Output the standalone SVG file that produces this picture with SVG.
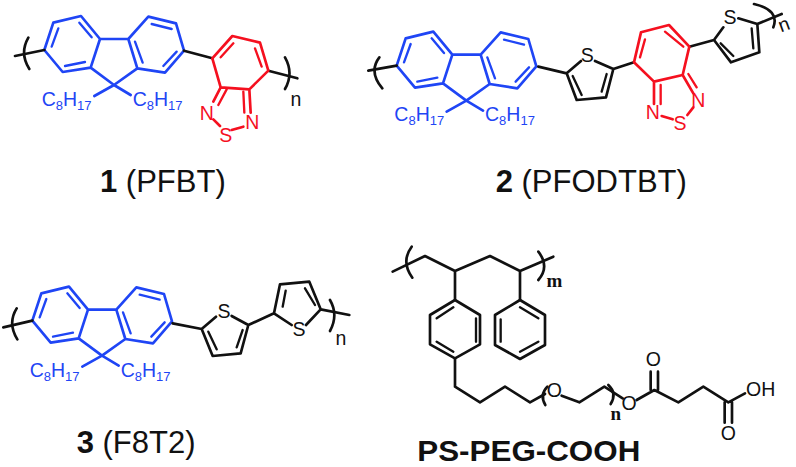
<svg xmlns="http://www.w3.org/2000/svg" xmlns:xlink="http://www.w3.org/1999/xlink" width="796" height="467" viewBox="0 0 796 467">
<style>
text{font-family:"Liberation Sans",Arial,sans-serif}
.a{font-size:19.5px;text-anchor:middle}
.lab{font-size:19.5px}
.sub{font-size:13px}
.cap{font-size:31px;fill:#111}
.cap .b{font-weight:bold}
.ser{font-family:"Liberation Serif","Times New Roman",serif;font-weight:bold;font-size:19px;text-anchor:middle;fill:#111}
.blue{fill:#1f45f5}
.red{fill:#f5101f}
.k{fill:#111}
.ln{fill:none;stroke-linejoin:round;stroke-linecap:round;stroke-width:8}
.in{fill:none;stroke-linecap:round;stroke-width:7}
.sb{stroke:#1f45f5}
.sr{stroke:#f5101f}
.sk{stroke:#111}
</style>
<defs>
<g id="fluorene">
<path class="ln sb" d="M133 150L160 68L243 48L300 117L272 203L188 216Z M385 117L445 50L528 70L552 152L495 218L412 205Z M300 117H385 M272 203L342 255L412 205 M342 255L283 288 M342 255L392 285"/>
<path class="in sb" d="M175 85L155 140 M238 68L275 112 M255 186L195 198 M405 125L428 188 M455 72L515 87 M530 155L490 198"/>
</g>
</defs>
<rect width="796" height="467" fill="#fff"/>

<g id="polymer-1">
<g transform="scale(.33333)">
<use xlink:href="#fluorene" href="#fluorene"/>
<path class="ln sk" d="M45 168L133 150 M552 152L637 175 M805 212L892 235"/>
<path class="ln sk" d="M85 113Q58 160 88 207 M855 172Q882 220 855 267"/>
<path class="ln sr" d="M637 175L697 108L780 128L805 212L748 268L662 262Z M662 262L640 305 M748 268L752 338 M640 358L660 378 M695 390L730 380"/>
<path class="in sr" d="M700 130L662 172 M765 145L785 200 M680 268L655 315 M730 275L733 338"/>
</g>
<text class="lab blue" x="41.7" y="105.5">C<tspan class="sub" dy="4">8</tspan><tspan dy="-4">H</tspan><tspan class="sub" dy="4">17</tspan></text>
<text class="lab blue" x="132.7" y="105.5">C<tspan class="sub" dy="4">8</tspan><tspan dy="-4">H</tspan><tspan class="sub" dy="4">17</tspan></text>
<text class="a red" x="206.7" y="119.5">N</text>
<text class="a red" x="252.3" y="129.3">N</text>
<text class="a red" x="225.7" y="141.7">S</text>
<text class="a k" x="296" y="106">n</text>
<text class="cap" x="100" y="192"><tspan class="b">1</tspan> (PFBT)</text>
</g>

<g id="polymer-2">
<g transform="translate(350 0) scale(.33333)">
<use xlink:href="#fluorene" href="#fluorene" transform="translate(7 47)"/>
<path class="ln sk" d="M55 212L140 197 M565 200L650 220L693 183 M735 183L790 207L768 292L680 300L650 220 M790 207L852 187 M1018 140L1092 120L1120 82 M1165 55L1222 72L1228 157L1143 187L1092 120 M1222 72L1295 42"/>
<path class="in sk" d="M668 228L695 285 M755 275L770 222 M1112 130L1150 168 M1205 85L1210 145"/>
<path class="ln sk" d="M88 172Q55 215 97 265 M1212 12Q1290 30 1270 82"/>
<path class="ln sr" d="M852 187L873 97L957 75L1018 140L998 225L912 245Z M912 245V312 M998 225L1030 280 M935 348L968 358 M1012 345L1030 322"/>
<path class="in sr" d="M870 172L885 118 M945 95L1000 140 M932 255V312 M1015 222L1040 262"/>
</g>
<text class="lab blue" x="394.3" y="121.2">C<tspan class="sub" dy="4">8</tspan><tspan dy="-4">H</tspan><tspan class="sub" dy="4">17</tspan></text>
<text class="lab blue" x="485" y="121.2">C<tspan class="sub" dy="4">8</tspan><tspan dy="-4">H</tspan><tspan class="sub" dy="4">17</tspan></text>
<text class="a k" x="587.3" y="62.3">S</text>
<text class="a k" x="730" y="24">S</text>
<text class="a red" x="652.7" y="119.3">N</text>
<text class="a red" x="698.3" y="106.7">N</text>
<text class="a red" x="680" y="130">S</text>
<text class="a k" transform="rotate(-20 786 30.7)" x="786" y="30.7">n</text>
<text class="cap" x="495.7" y="192"><tspan class="b">2</tspan> (PFODTBT)</text>
</g>

<g id="polymer-3">
<g transform="translate(0 250) scale(.33333)">
<use xlink:href="#fluorene" href="#fluorene" transform="translate(-36 62)"/>
<path class="ln sk" d="M10 232L97 212 M518 220L605 237L648 200 M695 198L745 225L722 310L638 318L605 237 M745 225L822 190L840 103L928 95L962 178L918 225 M822 190L875 225 M962 178L1048 195"/>
<path class="in sk" d="M625 245L650 298 M710 292L728 240 M848 170L857 122 M915 115L945 165"/>
<path class="ln sk" d="M50 175Q22 220 52 268 M990 150Q1016 195 990 243"/>
</g>
<text class="lab blue" x="29.7" y="377">C<tspan class="sub" dy="4">8</tspan><tspan dy="-4">H</tspan><tspan class="sub" dy="4">17</tspan></text>
<text class="lab blue" x="120.7" y="377">C<tspan class="sub" dy="4">8</tspan><tspan dy="-4">H</tspan><tspan class="sub" dy="4">17</tspan></text>
<text class="a k" x="224" y="318.3">S</text>
<text class="a k" x="299" y="335.7">S</text>
<text class="a k" x="341" y="345">n</text>
<text class="cap" x="76.7" y="453.3"><tspan class="b">3</tspan> (F8T2)</text>
</g>

<g id="ps-peg-cooh">
<g transform="translate(370 230) scale(.33333)">
<path class="ln sk" d="M68 125L165 78L255 123L360 78L450 123L550 80 M255 123V210 M450 123V210"/>
<path class="ln sk" d="M125 50Q92 95 127 143 M505 65Q540 110 505 150"/>
<path class="ln sk" d="M255 210L330 255V343L255 385L180 343V255Z M450 210L525 255V345L450 387L375 345V255Z"/>
<path class="in sk" d="M200 265L250 232 M318 265V335 M200 335L250 365 M392 268V335 M450 232L505 265 M450 365L505 335"/>
<path class="ln sk" d="M255 385V470L330 517L405 470L480 517L525 492 M575 497L628 517L703 470L758 505 M800 510L853 480L925 517L1000 470L1075 517L1125 490 M842 480V425 M864 480V425 M1064 517V578 M1086 517V578"/>
<path class="ln sk" d="M532 470Q508 495 526 525 M715 465Q742 490 722 522"/>
</g>
<text class="a k" x="554.3" y="396.7">O</text>
<text class="a k" x="629" y="410">O</text>
<text class="a k" x="653.3" y="366">O</text>
<text class="a k" x="728.3" y="440">O</text>
<text class="lab k" x="746" y="396">OH</text>
<text class="ser" x="554.3" y="287.3">m</text>
<text class="ser" x="615.7" y="420">n</text>
<text x="417.3" y="460.5" font-size="30" font-weight="bold" fill="#111" textLength="223" lengthAdjust="spacingAndGlyphs">PS-PEG-COOH</text>
</g>
</svg>
